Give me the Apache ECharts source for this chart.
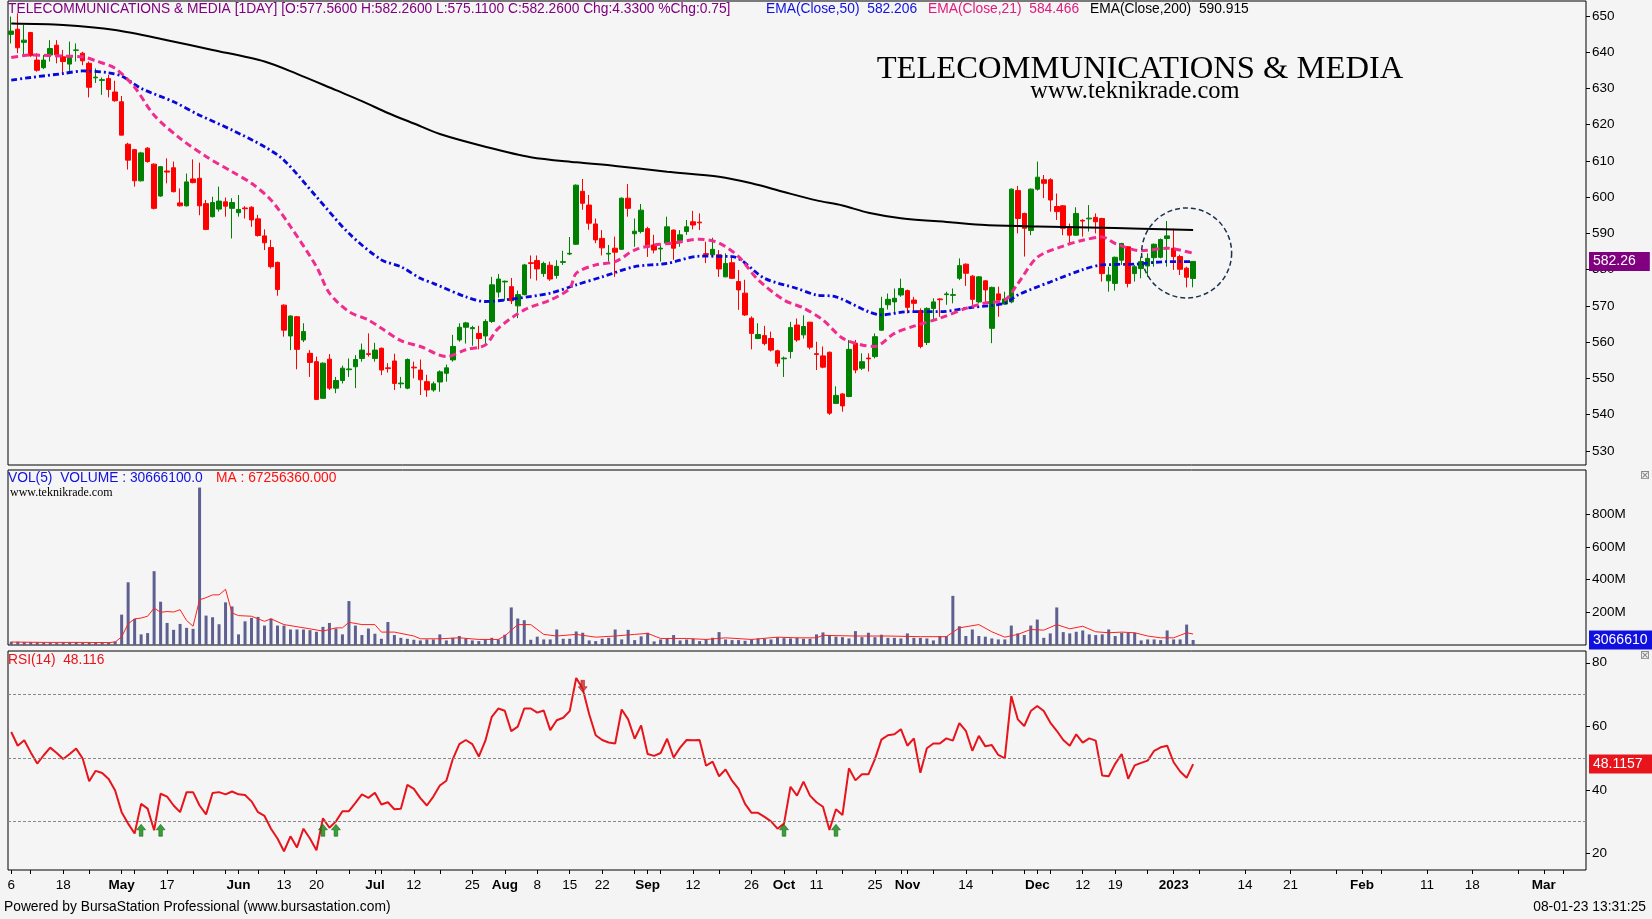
<!DOCTYPE html>
<html>
<head>
<meta charset="utf-8">
<title>TELECOMMUNICATIONS & MEDIA</title>
<script src="https://cdn.jsdelivr.net/npm/echarts@6/dist/echarts.min.js"></script>
<style>
  html, body { margin: 0; padding: 0; background: #f4f4f4; }
  #chart { width: 1652px; height: 919px; }
</style>
</head>
<body>
<div id="chart"></div>
<script>
// ---- calendar: Bursa trading days, then plain calendar days for the empty right part
const firstDay = '2022-04-06';
const lastTradingDay = '2023-01-06';
const lastDay = '2023-03-07';
const holidays = ['2022-04-19', '2022-05-02', '2022-05-03', '2022-05-04', '2022-05-16', '2022-06-06',
  '2022-07-11', '2022-08-31', '2022-09-16', '2022-10-10', '2022-10-24', '2022-11-18', '2022-11-28',
  '2022-12-26', '2023-01-02'];

// tick labels on the date axis (third item = bold month label)
const xLabels = [
  ['2022-04-06', '6'], ['2022-04-18', '18'], ['2022-05-05', 'May', 1], ['2022-05-17', '17'],
  ['2022-06-01', 'Jun', 1], ['2022-06-13', '13'], ['2022-06-20', '20'], ['2022-07-01', 'Jul', 1],
  ['2022-07-12', '12'], ['2022-07-25', '25'], ['2022-08-01', 'Aug', 1], ['2022-08-08', '8'],
  ['2022-08-15', '15'], ['2022-08-22', '22'], ['2022-09-01', 'Sep', 1], ['2022-09-12', '12'],
  ['2022-09-26', '26'], ['2022-10-03', 'Oct', 1], ['2022-10-11', '11'], ['2022-10-25', '25'],
  ['2022-11-01', 'Nov', 1], ['2022-11-14', '14'], ['2022-12-01', 'Dec', 1], ['2022-12-12', '12'],
  ['2022-12-19', '19'], ['2023-01-03', '2023', 1], ['2023-01-14', '14'], ['2023-01-21', '21'],
  ['2023-02-01', 'Feb', 1], ['2023-02-11', '11'], ['2023-02-18', '18'], ['2023-03-01', 'Mar', 1]
];

// ---- price data
const open = [644.9,646.3,642.7,645.4,637.8,635.7,639.2,641.9,638.7,636.7,
  640.5,639.7,636.9,632.9,632.2,632.7,629.0,626.3,614.6,613.1,
  604.5,613.5,609.1,600.3,607.2,608.1,598.4,597.6,605.0,605.2,
  598.2,594.6,596.7,598.7,596.9,595.7,597.0,597.2,594.0,589.3,
  586.1,582.0,570.2,561.7,567.0,560.6,556.9,554.6,544.5,555.3,
  547.3,549.4,552.4,553.2,555.5,556.8,555.5,558.3,552.9,554.8,
  548.5,547.3,553.1,552.3,549.1,546.8,549.0,551.4,555.1,560.6,
  564.1,563.7,562.4,561.7,565.7,573.8,576.6,575.3,570.0,573.1,
  581.9,582.5,578.9,581.2,578.4,582.0,584.3,587.0,601.6,597.8,
  592.6,588.6,584.3,585.9,585.6,599.7,589.9,590.5,591.3,586.8,
  585.7,587.3,590.9,588.0,590.5,593.2,593.1,584.4,584.1,584.1,
  578.0,581.9,576.7,573.5,566.6,561.0,561.8,561.0,557.6,555.4,
  557.4,564.7,562.0,565.5,556.8,556.2,557.2,543.1,545.7,545.0,
  559.7,552.8,555.6,556.0,563.3,570.3,571.1,573.0,574.2,571.6,
  568.7,559.9,569.3,571.9,573.1,572.9,577.6,581.5,578.2,571.1,
  576.9,563.8,573.3,570.5,571.1,601.8,595.5,590.8,602.2,604.8,
  604.8,597.4,597.6,591.4,589.5,593.6,594.0,594.4,594.1,576.9,
  576.2,582.6,586.3,578.9,580.3,581.0,583.3,583.4,588.6,585.9,
  583.6,580.4,577.56];
const close = [645.8,641.2,643.3,639.0,635.0,637.8,641.0,639.2,637.4,638.5,
  640.6,637.6,630.3,633.1,632.4,629.7,626.6,617.1,610.2,604.5,
  612.2,609.8,596.9,608.4,606.9,601.5,597.6,604.2,604.0,597.6,
  591.1,598.5,598.9,597.5,598.5,596.6,596.8,593.7,589.4,587.4,
  580.8,574.5,563.3,567.2,558.0,562.9,554.4,544.2,554.2,547.3,
  549.4,552.8,552.6,555.2,557.8,556.6,557.8,552.3,552.7,548.6,
  548.7,555.2,552.9,549.6,546.8,548.5,551.8,552.9,558.8,564.1,
  565.3,564.0,561.0,565.7,575.8,577.4,576.8,571.4,573.1,581.3,
  581.7,580.2,581.7,577.4,580.9,582.2,584.5,603.3,598.3,592.8,
  588.2,586.0,584.5,584.8,599.7,596.9,590.6,596.4,586.2,585.4,
  585.9,591.8,585.9,589.6,591.8,592.3,592.9,584.2,585.6,580.2,
  581.7,577.6,574.4,567.5,562.4,562.1,559.6,557.8,554.2,555.6,
  564.0,560.6,564.3,558.6,556.6,553.1,540.4,545.3,542.4,558.0,
  552.3,554.6,555.4,561.5,569.3,571.8,572.1,574.8,569.6,570.7,
  558.8,569.3,571.1,571.7,573.3,573.1,581.1,579.0,571.8,578.0,
  574.4,575.1,571.6,571.9,602.2,594.1,591.4,602.2,605.5,603.8,
  599.2,596.0,591.4,589.5,595.5,593.4,594.2,593.2,578.9,578.5,
  583.4,587.2,576.2,580.8,582.2,583.1,587.0,588.3,589.3,583.6,
  580.1,577.9,582.26];
const high = [649.8,650.7,647.5,645.6,639.7,639.2,643.3,643.3,640.6,642.9,
  642.4,640.1,637.4,635.5,633.0,633.7,632.1,627.9,615.0,613.3,
  612.5,613.8,609.3,608.6,610.7,609.8,602.4,606.5,610.4,609.5,
  599.2,600.1,602.9,599.9,599.7,600.6,597.5,597.5,595.1,591.1,
  588.2,582.2,570.4,567.4,567.2,565.2,557.8,556.0,554.4,556.7,
  550.4,553.5,555.5,556.4,559.6,562.4,559.8,558.5,554.2,556.8,
  550.4,555.5,554.6,555.2,551.0,549.1,552.2,553.8,562.0,565.2,
  565.6,564.5,564.5,566.3,578.0,578.8,577.0,577.7,574.2,581.6,
  583.9,583.9,582.2,582.2,582.6,585.2,589.0,603.5,605.0,600.6,
  594.1,590.9,586.8,589.1,599.9,603.6,594.1,598.1,591.8,589.6,
  586.8,594.6,591.1,590.9,593.7,596.2,595.5,587.7,588.8,585.4,
  584.5,583.5,579.9,577.2,567.1,565.2,564.5,562.9,557.9,556.0,
  565.6,566.5,567.4,565.6,560.1,558.8,557.4,547.8,545.9,560.6,
  560.6,556.9,556.9,562.4,572.5,573.4,574.8,577.5,574.5,572.5,
  569.3,569.6,572.1,572.1,573.9,574.8,583.1,581.7,578.5,578.2,
  577.1,575.3,575.3,573.9,602.4,603.1,595.7,602.4,609.8,606.1,
  605.2,601.0,597.8,592.7,597.2,593.9,597.8,595.5,594.3,580.8,
  583.6,587.4,586.5,581.3,583.6,584.5,587.2,588.6,593.4,591.3,
  584.1,580.8,582.26];
const low = [642.4,639.7,639.2,638.7,634.6,635.3,637.4,636.9,633.7,634.6,
  637.4,636.4,627.5,631.5,628.2,627.5,626.3,617.1,607.6,602.9,
  604.3,609.5,596.6,600.1,603.8,601.3,597.4,597.4,603.8,595.0,
  590.9,594.4,596.0,594.6,588.6,594.6,594.1,591.8,589.1,585.4,
  580.3,572.8,561.5,557.8,552.5,560.0,550.4,544.0,544.3,546.8,
  545.9,548.6,550.4,547.3,554.6,556.0,554.6,550.9,551.6,546.8,
  547.3,547.0,550.0,545.4,544.9,546.3,546.3,549.1,554.6,560.1,
  559.6,559.0,558.0,559.6,565.3,572.3,571.4,570.5,566.6,572.9,
  577.5,577.0,578.0,576.9,577.5,581.3,584.0,586.8,596.5,591.0,
  587.3,583.9,582.2,578.0,585.4,594.6,586.3,590.0,583.5,584.5,
  582.2,586.8,582.7,586.3,589.6,591.1,590.9,581.8,583.5,578.0,
  577.9,577.4,568.9,567.2,558.0,560.8,559.1,557.4,553.2,550.4,
  555.5,560.1,561.0,558.0,552.3,552.8,539.9,542.9,540.8,544.8,
  551.4,552.3,551.9,555.5,563.1,569.0,567.9,572.5,567.9,568.4,
  558.3,559.2,566.1,567.0,570.3,570.7,577.1,575.5,570.3,570.7,
  571.1,559.7,567.0,570.3,570.7,590.0,583.6,589.5,601.8,599.7,
  596.0,593.7,589.5,587.2,589.3,589.1,590.5,590.0,576.7,573.9,
  574.2,581.3,575.1,576.7,577.6,578.0,580.8,583.1,580.8,579.9,
  578.5,575.1,575.11];

// moving averages read at points along each curve: [bar index, value]
const ema200 = [[0,647.9],[8,647.5],[16,646.1],[24,643.3],[31,640.6],[39,637.4],[44,634.0],[50,629.5],
  [54,626.5],[58,623.2],[62,620.3],[66,617.4],[73,613.9],[80,611.0],[87,609.6],[93,608.6],[101,607.0],
  [109,605.6],[114,603.8],[119,601.4],[124,599.1],[128,597.7],[132,595.7],[137,594.2],[145,593.0],
  [150,592.3],[158,591.9],[166,591.6],[174,591.3],[182,590.9]];
const ema21 = [[0,638.5],[3,639.2],[8,638.9],[11,638.7],[13,637.6],[16,635.5],[19,630.3],[22,622.6],
  [26,616.2],[30,611.2],[34,607.0],[37,603.8],[40,599.2],[43,591.9],[47,580.8],[49,573.5],[52,568.4],
  [55,566.1],[57,563.8],[60,560.4],[63,558.8],[67,556.0],[70,557.9],[73,559.2],[75,563.8],[79,568.9],
  [83,571.6],[86,574.8],[87,579.0],[90,581.3],[93,582.2],[96,585.4],[99,586.8],[102,587.3],[106,588.4],
  [109,587.3],[112,583.6],[115,577.2],[119,571.6],[122,569.4],[125,566.1],[128,561.1],[131,559.2],
  [133,558.8],[136,562.4],[139,564.4],[143,566.6],[147,569.3],[150,570.8],[153,571.6],[155,576.1],
  [158,583.4],[162,586.5],[165,588.1],[168,589.0],[170,587.2],[174,585.2],[178,585.9],[182,584.5]];
const ema50 = [[0,632.3],[3,633.0],[8,634.1],[11,634.8],[15,634.3],[17,633.4],[20,630.0],[25,626.3],
  [29,622.6],[34,618.5],[39,613.9],[42,610.2],[47,600.1],[52,590.0],[57,582.7],[60,580.8],[63,577.6],
  [65,576.2],[70,572.5],[73,571.2],[78,572.1],[83,573.5],[87,575.8],[91,578.0],[96,580.8],[101,581.7],
  [106,583.7],[111,583.6],[116,577.6],[121,574.8],[124,573.0],[127,572.5],[132,568.4],[134,567.5],
  [138,568.4],[143,568.4],[148,569.6],[153,570.7],[155,573.0],[160,576.6],[165,580.0],[168,581.3],
  [173,581.5],[178,582.2],[182,582.2]];

// ---- volume, millions of shares
const volume = [20,20,18,18,16,16,14,12,16,16,
  18,14,14,14,14,16,22,186,384,160,
  65,73,452,265,135,93,129,105,99,964,
  180,170,127,261,236,65,145,166,172,119,
  162,119,119,95,95,95,91,81,111,135,
  101,65,269,119,61,101,69,38,141,61,
  44,38,32,28,34,34,65,28,44,55,
  40,28,24,34,44,34,63,230,162,152,
  32,51,34,34,95,38,38,83,75,28,
  24,38,44,95,34,93,30,53,75,22,
  34,40,61,28,34,38,24,34,44,79,
  34,30,30,26,34,40,38,34,48,42,
  40,44,38,38,65,77,55,51,48,40,
  85,48,75,48,63,44,44,40,71,44,
  44,40,28,55,55,301,115,55,95,55,
  51,40,34,34,119,71,61,119,156,44,
  71,230,79,71,81,89,65,61,65,95,
  55,75,75,75,28,34,34,30,89,34,
  34,125,30.6661];
const volMA = [[0,18],[5,16],[10,16],[15,15],[16,18],[17,50],[18,130],[19,160],[20,165],[21,176],
  [22,226],[23,200],[24,205],[25,202],[26,216],[27,150],[28,115],[29,277],[30,290],[31,307],[32,307],
  [33,341],[34,196],[35,180],[37,176],[39,145],[40,160],[42,125],[46,99],[48,85],[50,105],[51,105],
  [52,139],[54,125],[56,125],[57,79],[59,79],[62,55],[63,38],[66,38],[69,44],[72,34],[75,34],[76,55],
  [78,125],[80,125],[82,65],[84,55],[87,65],[90,48],[93,55],[96,65],[98,71],[100,40],[104,40],
  [107,34],[110,44],[114,34],[118,48],[121,44],[124,44],[125,59],[130,55],[135,55],[140,51],[144,51],
  [146,105],[149,125],[151,81],[153,48],[155,65],[157,95],[159,91],[161,125],[163,99],[165,115],
  [167,81],[169,75],[171,79],[173,75],[175,55],[177,44],[179,44],[181,75],[182,67.26]];

// ---- RSI(14)
const rsi = [58.2,53.9,55.6,51.8,48.3,50.9,53.3,51.6,49.7,51.3,
  53.0,49.9,42.7,46.0,45.3,43.4,39.8,33.0,29.4,26.3,
  35.6,34.1,27.3,38.8,37.9,35.1,33.0,39.3,39.3,35.1,
  32.3,39.0,39.3,38.6,39.5,38.6,38.4,36.4,33.0,31.8,
  27.8,24.7,20.7,25.4,21.9,27.8,24.7,21.0,31.1,28.1,
  30.1,33.3,33.3,35.9,38.6,37.5,39.1,35.4,36.1,33.9,
  34.1,41.6,40.3,37.4,35.1,37.9,41.4,42.9,49.7,54.4,
  55.7,54.4,50.5,55.4,63.0,65.6,64.9,58.5,59.9,65.6,
  65.6,64.3,65.0,58.8,61.9,62.7,64.8,75.2,71.8,63.8,
  57.2,55.7,54.9,54.6,65.3,62.2,56.1,60.3,51.3,50.7,
  51.6,56.1,50.2,53.3,55.7,55.6,55.7,47.6,48.9,44.3,
  46.4,42.9,40.3,35.6,32.8,32.8,31.5,30.1,27.8,29.4,
  41.0,38.2,42.6,38.2,36.1,34.7,27.4,33.9,32.1,46.8,
  43.0,44.9,44.9,49.7,55.8,57.2,57.5,59.1,53.9,56.2,
  45.4,53.1,54.6,54.6,56.2,55.5,61.0,58.6,52.3,57.0,
  53.7,54.1,51.0,49.9,69.5,62.2,60.1,64.8,66.4,64.8,
  61.2,58.6,55.7,53.9,57.5,54.9,56.2,55.5,44.5,44.3,
  48.2,51.3,43.5,47.7,48.5,49.2,52.3,53.4,53.9,48.7,
  45.8,43.8,48.116];
const buySignals = [20, 23, 48, 50, 119, 127];
const sellSignals = [88];

const priceTicks = [530, 540, 550, 560, 570, 580, 590, 600, 610, 620, 630, 640, 650];
const volTicks = [200, 400, 600, 800];
const rsiTicks = [20, 40, 60, 80];
const rsiLevels = [30, 50, 70];

// ---- build the category list
const dates = [];
for (let t = Date.UTC(2022, 3, 6); ; t += 86400000) {
  const d = new Date(t);
  const s = d.toISOString().slice(0, 10);
  if (s > lastDay) break;
  const wd = d.getUTCDay();
  if (s <= lastTradingDay && (wd === 0 || wd === 6 || holidays.includes(s))) continue;
  dates.push(s);
}
const labelMap = {};
xLabels.forEach(([d, txt, bold]) => { labelMap[d] = bold ? '{b|' + txt + '}' : txt; });

function weekday(s) { return new Date(s + 'T00:00:00Z').getUTCDay(); }
function isTick(i) {
  if (i === 0) return true;
  const d = dates[i], prev = dates[i - 1];
  if (d.slice(5, 7) !== prev.slice(5, 7)) return true;
  if (d > lastTradingDay) return weekday(d) === 6;
  return weekday(d) < weekday(prev);
}

const FONT = '"Liberation Sans", Arial, sans-serif';
const SERIF = '"Liberation Serif", "Times New Roman", serif';

const chart = echarts.init(document.getElementById('chart'));

function xAxis(g, bottom) {
  return {
    type: 'category', gridIndex: g, data: dates, boundaryGap: true,
    axisLine: { show: false },
    splitLine: { show: false },
    axisTick: bottom
      ? { show: true, alignWithLabel: true, length: 4, interval: (i) => isTick(i), lineStyle: { color: '#000' } }
      : { show: false },
    axisLabel: bottom
      ? {
          show: true, interval: (i, v) => v in labelMap, formatter: (v) => labelMap[v] || '',
          color: '#000', fontFamily: FONT, fontSize: 13.5, margin: 8,
          rich: { b: { fontWeight: 'bold', fontFamily: FONT, fontSize: 13.5, color: '#000' } }
        }
      : { show: false }
  };
}

function yAxis(g, min, max, ticks, fmt) {
  return {
    type: 'value', gridIndex: g, position: 'right', min: min, max: max,
    axisLine: { show: false }, splitLine: { show: false },
    axisTick: { show: true, length: 4, lineStyle: { color: '#000' }, customValues: ticks },
    axisLabel: { color: '#000', fontFamily: FONT, fontSize: 13.5, margin: 6, customValues: ticks, formatter: fmt }
  };
}

const gridBox = { left: 8, right: 66, show: true, borderColor: '#000', borderWidth: 1, backgroundColor: '#f5f5f5' };

// value box at the right edge of a panel
function valueTag(val, text, bg) {
  return {
    yAxis: val,
    lineStyle: { color: 'rgba(0,0,0,0)', width: 1 },
    label: {
      show: true, position: 'end', distance: 3, formatter: text, color: '#fff', backgroundColor: bg,
      fontFamily: FONT, fontSize: 14, padding: [3, 14, 2, 4], opacity: 1
    }
  };
}

const upArrow = 'path://M5,0L10,6L7,6L7,13L3,13L3,6L0,6Z';
const downArrow = 'path://M3,0L7,0L7,7L10,7L5,13L0,7L3,7Z';

chart.setOption({
  animation: false,
  backgroundColor: '#f4f4f4',
  grid: [
    Object.assign({ top: 1, height: 464 }, gridBox),
    Object.assign({ top: 470, height: 175 }, gridBox),
    Object.assign({ top: 651, height: 219 }, gridBox)
  ],
  xAxis: [xAxis(0, false), xAxis(1, false), xAxis(2, true)],
  yAxis: [
    yAxis(0, 526.1, 654.1, priceTicks),
    yAxis(1, 0, 1071.6, volTicks, (v) => v + 'M'),
    yAxis(2, 14.8, 83.7, rsiTicks)
  ],
  series: [
    {
      type: 'candlestick', xAxisIndex: 0, yAxisIndex: 0, barWidth: 5,
      data: open.map((o, i) => [o, close[i], low[i], high[i]]),
      itemStyle: { color: '#008000', color0: '#ff0000', borderColor: '#008000', borderColor0: '#ff0000', borderWidth: 1 },
      markLine: { silent: true, symbol: 'none', data: [valueTag(582.26, '582.26', '#800080')] }
    },
    {
      type: 'line', xAxisIndex: 0, yAxisIndex: 0, data: ema200, showSymbol: false, smooth: 0.3,
      lineStyle: { color: '#000', width: 2 }
    },
    {
      type: 'line', xAxisIndex: 0, yAxisIndex: 0, data: ema50, showSymbol: false, smooth: 0.3,
      lineStyle: { color: '#0808d8', width: 2.8, type: [6, 3, 2, 3] }
    },
    {
      type: 'line', xAxisIndex: 0, yAxisIndex: 0, data: ema21, showSymbol: false, smooth: 0.3,
      lineStyle: { color: '#f02c8e', width: 3, type: [7, 4] }
    },
    {
      type: 'bar', xAxisIndex: 1, yAxisIndex: 1, data: volume, barWidth: 3,
      itemStyle: { color: '#5e6090' },
      markLine: { silent: true, symbol: 'none', data: [valueTag(30.6661, '3066610', '#1010e0')] }
    },
    {
      type: 'line', xAxisIndex: 1, yAxisIndex: 1, data: volMA, showSymbol: false,
      lineStyle: { color: '#ff2020', width: 1 }
    },
    {
      type: 'line', xAxisIndex: 2, yAxisIndex: 2, data: rsi, showSymbol: false,
      lineStyle: { color: '#e8141c', width: 2 },
      markLine: {
        silent: true, symbol: 'none',
        data: rsiLevels.map((v) => ({ yAxis: v, lineStyle: { color: '#888', width: 1, type: [3, 2] }, label: { show: false } }))
          .concat([valueTag(48.1157, '48.1157', '#e8141c')])
      }
    },
    {
      type: 'scatter', xAxisIndex: 2, yAxisIndex: 2, z: 5,
      data: buySignals.map((i) => [i, 27.3]), symbol: upArrow, symbolSize: [9, 12],
      itemStyle: { color: '#0a8a0a', borderColor: '#045004', borderWidth: 0.6 }
    },
    {
      type: 'scatter', xAxisIndex: 2, yAxisIndex: 2, z: 5,
      data: sellSignals.map((i) => [i, 72.6]), symbol: downArrow, symbolSize: [9, 12],
      itemStyle: { color: '#d42020', borderColor: '#8a1010', borderWidth: 0.6 }
    }
  ]
});

// text and the dashed circle drawn on top
const c = chart.convertToPixel({ xAxisIndex: 0, yAxisIndex: 0 }, [181, 584.6]);
function txt(x, y, text, fill, font, align) {
  return { type: 'text', z: 100, style: { x: x, y: y, text: text, fill: fill, font: font, textAlign: align || 'left', textVerticalAlign: 'middle' } };
}
const F = '13.8px ' + FONT;
chart.setOption({
  graphic: [
    txt(8, 9, 'TELECOMMUNICATIONS & MEDIA [1DAY] [O:577.5600 H:582.2600 L:575.1100 C:582.2600 Chg:4.3300 %Chg:0.75]', '#800080', F),
    txt(766, 9, 'EMA(Close,50)  582.206', '#1010e0', F),
    txt(928, 9, 'EMA(Close,21)  584.466', '#e0197d', F),
    txt(1090, 9, 'EMA(Close,200)  590.915', '#000', F),
    txt(1140, 69, 'TELECOMMUNICATIONS & MEDIA', '#000', '32.6px ' + SERIF, 'center'),
    txt(1135, 92, 'www.teknikrade.com', '#000', '24.5px ' + SERIF, 'center'),
    txt(8, 478, 'VOL(5)  VOLUME : 30666100.0', '#1010e0', F),
    txt(216, 478, 'MA : 67256360.000', '#ff1010', F),
    txt(10, 493, 'www.teknikrade.com', '#000', '12px ' + SERIF),
    txt(8, 660, 'RSI(14)  48.116', '#e8141c', F),
    txt(4, 907, 'Powered by BursaStation Professional (www.bursastation.com)', '#000', F),
    txt(1646, 907, '08-01-23 13:31:25', '#000', F, 'right'),
    txt(1645, 476, '\u22A0', '#888', '12px "DejaVu Sans"', 'center'),
    txt(1645, 656, '\u22A0', '#888', '12px "DejaVu Sans"', 'center'),
    {
      type: 'circle', z: 100, shape: { cx: c[0], cy: c[1], r: 45 },
      style: { fill: 'none', stroke: '#1c3350', lineWidth: 1.5, lineDash: [5, 3] }
    }
  ]
});
</script>
</body>
</html>
